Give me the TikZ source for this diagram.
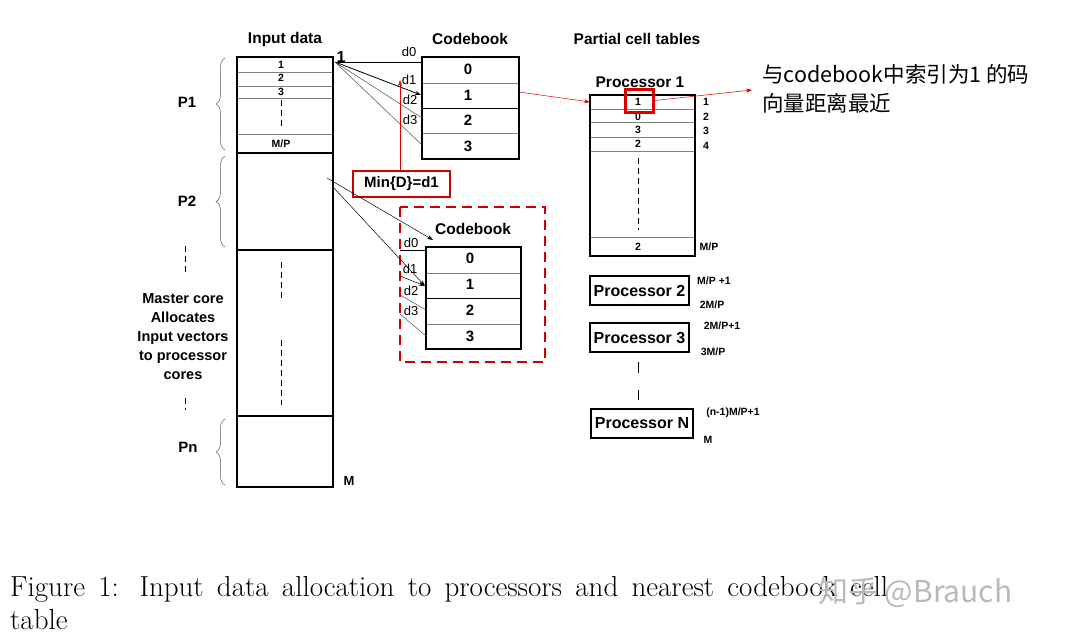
\documentclass[tikz,border=0pt]{standalone}
\usepackage{fontspec}
\setmainfont{Latin Modern Roman}
\newfontfamily\ars{Liberation Sans}
\newfontfamily\cjk{Noto Sans CJK SC}
\usetikzlibrary{arrows.meta,decorations.pathreplacing}
\begin{document}
\begin{tikzpicture}[x=1pt,y=-1pt,
 tb/.style={font=\ars\bfseries\fontsize{15.5}{17}\selectfont,inner sep=0},
 sm/.style={font=\ars\bfseries\fontsize{10.5}{12}\selectfont,inner sep=0},
 cb/.style={font=\ars\bfseries\fontsize{15}{16}\selectfont,inner sep=0},
 dl/.style={font=\ars\fontsize{13}{14}\selectfont,inner sep=0},
 thk/.style={line width=1.6pt},
 thin/.style={line width=0.5pt},
 gl/.style={line width=0.6pt,gray},
 dsh/.style={thin,dash pattern=on 6pt off 4pt},
 br/.style={decorate,decoration={brace,amplitude=9pt},thin,gray!70!black},
 proc/.style={draw,thk,minimum width=99pt,minimum height=29pt,inner sep=0,font=\ars\bfseries\fontsize{16}{18}\selectfont},
 arr/.style={-{Stealth[length=6pt,width=4pt]}}]
\useasboundingbox (0,0) rectangle (1078,637);
% titles
\node[tb] (tin) at (285,39) {Input data};
\node[tb] (tcb) at (470,39) {Codebook};
\node[tb] (tpc) at (637,39) {Partial cell tables};
% input data
\draw[gl] (237,72)--(333,72) (237,86)--(333,86) (237,98)--(333,98) (237,134)--(333,134);
\draw[thk] (237,153)--(333,153) (237,250)--(333,250) (237,416)--(333,416);
\draw[thk] (237,57) rectangle (333,487);
\node[sm] (i1) at (281,65) {1};
\node[sm] (i2) at (281,78) {2};
\node[sm] (i3) at (281,92) {3};
\node[sm] (imp) at (281,144) {M/P};
\draw[dsh] (281,100)--(281,130) (281,262)--(281,300) (281,340)--(281,405);
\node[cb,font=\ars\bfseries\fontsize{16}{17}\selectfont] (one) at (341,57) {1};
\node[sm,font=\ars\bfseries\fontsize{13}{14}\selectfont] (mm) at (349,481) {M};
% braces
\draw[br] (225,150)--(225,58);
\draw[br] (225,247)--(225,156);
\draw[br] (225,485)--(225,419);
\node[tb,font=\ars\bfseries\fontsize{15}{16}\selectfont] (p1) at (187,102) {P1};
\node[tb,font=\ars\bfseries\fontsize{15}{16}\selectfont] (p2) at (187,201) {P2};
\node[tb,font=\ars\bfseries\fontsize{15}{16}\selectfont] (pn) at (188,447) {Pn};
\draw[dsh] (185,246)--(185,275) (185,398)--(185,410);
\node[align=center,font=\ars\bfseries\fontsize{14.5}{19}\selectfont,inner sep=0] (mc) at (183,337) {Master core\\Allocates\\Input vectors\\to processor\\cores};
% codebook 1
\draw[gl] (422,83)--(519,83) (422,133)--(519,133);
\draw[thin] (422,108)--(519,108);
\draw[thk] (422,57) rectangle (519,159);
\node[cb] (c0) at (468,69) {0};
\node[cb] (c1) at (468,95) {1};
\node[cb] (c2) at (468,120) {2};
\node[cb] (c3) at (468,146) {3};
\node[dl] (d0) at (409,52) {d0};
\node[dl] (d1) at (409,80) {d1};
\node[dl] (d2) at (410,100) {d2};
\node[dl] (d3) at (410,120) {d3};
\coordinate (s) at (335,62);
\draw[thin] (s)--(422,62);
\draw[arr,line width=0.8pt] (s)--(421,95);
\draw[thin,gray!60!black] (s)--(422,118) (s)--(422,145);
% Min box
\node[draw=red!80!black,line width=1.2pt,minimum width=97pt,minimum height=26pt,font=\ars\bfseries\fontsize{15}{16}\selectfont,inner sep=0] (mind) at (401.5,184) {Min\{D\}=d1};
\draw[arr,red!85!black,thin] (mind.north-|400,0)--(400,80);
% dashed red box
\draw[red!80!black,line width=2pt,dash pattern=on 10pt off 6pt] (400,207) rectangle (545,362);
\node[tb] (tcb2) at (473,229) {Codebook};
\draw[gl] (426,273)--(521,273) (426,324)--(521,324);
\draw[thin] (426,298)--(521,298);
\draw[thk] (426,247) rectangle (521,349);
\node[cb] (e0) at (470,258) {0};
\node[cb] (e1) at (470,284) {1};
\node[cb] (e2) at (470,310) {2};
\node[cb] (e3) at (470,336) {3};
\node[dl] (f0) at (411,243) {d0};
\node[dl] (f1) at (410,269) {d1};
\node[dl] (f2) at (411,291) {d2};
\node[dl] (f3) at (411,311) {d3};
\draw[arr,thin] (327,178)--(433,240);
\draw[arr,thin] (333,187)--(425,286);
\draw[thin] (400,250)--(426,250);
\draw[arr,thin] (400,276)--(425,286);
\draw[thin,gray!60!black] (400,295)--(426,310) (400,314)--(426,336);
% processor 1
\node[tb] (tp1) at (640,82) {Processor 1};
\draw[gl] (590,109)--(695,109) (590,122)--(695,122) (590,137)--(695,137) (590,151)--(695,151) (590,237)--(695,237);
\draw[thk] (590,95) rectangle (695,256);
\node[sm] (q1) at (638,102) {1};
\node[sm] (q2) at (638,117) {0};
\node[sm] (q3) at (638,130) {3};
\node[sm] (q4) at (638,144) {2};
\node[sm] (q5) at (638,247) {2};
\draw[dsh] (638,158)--(638,230);
\node[sm] (r1) at (706,102) {1};
\node[sm] (r2) at (706,117) {2};
\node[sm] (r3) at (706,131) {3};
\node[sm] (r4) at (706,146) {4};
\node[sm] (r5) at (709,247) {M/P};
\draw[arr,red!85!black,thin] (519,92)--(590,102);
\node[draw=red!85!black,line width=3pt,minimum width=28pt,minimum height=23pt,inner sep=0] (hl) at (639,100.5) {};
\draw[arr,red!85!black,thin] (hl.east)--(752,90);
\node[anchor=west,inner sep=0,font=\cjk\fontsize{21.5}{29}\selectfont,align=left] (cn) at (762,89) {与codebook中索引为1 的码\\向量距离最近};
% processors
\node[proc] (pr2) at (639.5,290.5) {Processor 2};
\node[proc] (pr3) at (639.5,337.5) {Processor 3};
\node[proc,minimum width=102pt] (prn) at (642,423.5) {Processor N};
\node[sm] (l1) at (714,281) {M/P +1};
\node[sm] (l2) at (712,305) {2M/P};
\node[sm] (l3) at (722,326) {2M/P+1};
\node[sm] (l4) at (713,352) {3M/P};
\node[sm] (l5) at (733,413) {(n-1)M/P+1};
\node[sm] (l6) at (708,440) {M};
\draw[thin] (638,362)--(638,373) (638,390)--(638,400);
% caption
\node[anchor=west,inner sep=0,font=\fontsize{29}{33}\selectfont,align=left] (cap) at (10,603) {\makebox[878pt][s]{Figure 1: Input data allocation to processors and nearest codebook cell}\\table};
\node[anchor=west,inner sep=0,font=\cjk\fontsize{30}{32}\selectfont,gray!55] (wm) at (818,592) {知乎 @Brauch};
\end{tikzpicture}
\end{document}
